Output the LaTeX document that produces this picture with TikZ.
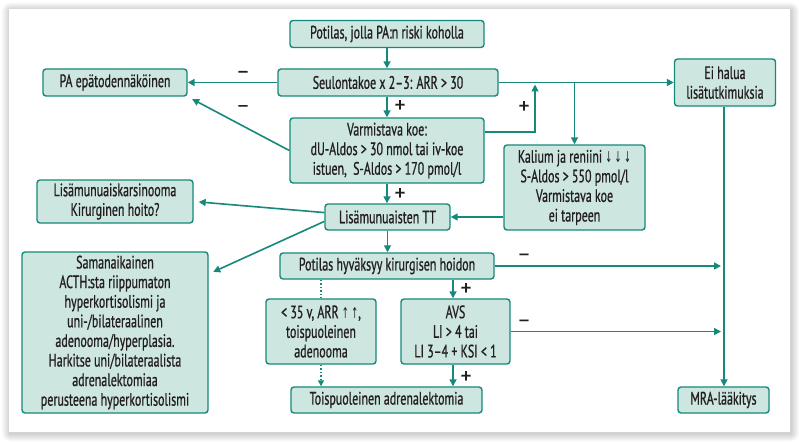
\documentclass[tikz,border=0pt]{standalone}
\usepackage{fontspec}
\setmainfont{PT Sans}[FakeStretch=0.665,FakeBold=0.8]
\newfontfamily\arr{DejaVu Sans}[FakeStretch=0.55]
\newfontfamily\lblfont{PT Sans}[FakeBold=0.8]
\usetikzlibrary{arrows.meta,calc}
\definecolor{tealline}{HTML}{17897A}
\definecolor{tealfill}{HTML}{CDE6DF}
\definecolor{txt}{HTML}{231F20}
\tikzset{
  box/.style={draw=tealline, fill=tealfill, line width=1.4pt, rounded corners=3pt,
    inner sep=0pt, align=center, text=txt, font=\fontsize{18}{19.6}\selectfont},
  conn/.style={draw=tealline, line width=1.6pt, -{Triangle[length=7pt,width=7pt]}},
  plain/.style={draw=tealline, line width=1.6pt},
  dots/.style={draw=tealline, line width=1.3pt, dash pattern=on 1.5pt off 2pt},
  lbl/.style={text=txt, font=\lblfont\fontsize{21}{21}\selectfont, inner sep=0pt}
}
\begin{document}
\begin{tikzpicture}[x=1pt,y=-1pt]
\useasboundingbox (0,0) rectangle (799,441);
\fill[white] (0,0) rectangle (799,441);
% shadow
\foreach \i in {1,...,9}{
  \fill[black,opacity=0.018,rounded corners=\i pt] ($(9,9)-(\i*0.9,\i*0.9)+(1,1.5)$) rectangle ($(790,432)+(\i*0.9,\i*0.9)+(1,1.5)$);
}
\fill[white] (9,9) rectangle (790,432);

% nodes
\node[box, minimum width=194pt, minimum height=27pt] (pot) at (387,34) {Potilas, jolla PA:n riski koholla};
\node[box, minimum width=144pt, minimum height=27pt] (pa) at (115,82.5) {PA epätodennäköinen};
\node[box, minimum width=220pt, minimum height=27pt] (seu) at (388,82.5) {Seulontakoe x 2–3: ARR > 30};
\node[box, minimum width=101pt, minimum height=47pt] (ei) at (725,82.5) {Ei halua\\lisätutkimuksia};
\node[box, minimum width=194pt, minimum height=65pt] (var) at (387,150.5) {Varmistava koe:\\dU-Aldos > 30 nmol tai iv-koe\\istuen,\ \ S-Aldos > 170 pmol/l};
\node[box, minimum width=141pt, minimum height=85pt] (kal) at (574.5,187.5) {Kalium ja reniini {\arr\fontsize{15}{15}\selectfont ↓\,↓\,↓}\\S-Aldos > 550 pmol/l\\Varmistava koe\\ei tarpeen};
\node[box, minimum width=156pt, minimum height=43pt] (kar) at (115,201.5) {Lisämunuaiskarsinooma\\Kirurginen hoito?};
\node[box, minimum width=125pt, minimum height=26pt] (tt) at (387.5,217) {Lisämunuaisten TT};
\node[box, minimum width=186pt, minimum height=161pt] (sam) at (115,332.5) {Samanaikainen\\ACTH:sta riippumaton\\hyperkortisolismi ja\\uni-/bilateraalinen\\adenooma/hyperplasia.\\Harkitse uni/bilateraalista\\adrenalektomiaa\\perusteena hyperkortisolismi};
\node[box, minimum width=214pt, minimum height=26pt] (hyv) at (387,266) {Potilas hyväksyy kirurgisen hoidon};
\node[box, minimum width=110pt, minimum height=65pt] (alle) at (321,331.5) {< 35 v, ARR {\arr\fontsize{15}{15}\selectfont ↑\,↑},\\toispuoleinen\\adenooma};
\node[box, minimum width=109pt, minimum height=65pt] (avs) at (455.5,331.5) {AVS\\LI > 4 tai\\LI 3–4 + KSI < 1};
\node[box, minimum width=191pt, minimum height=26pt] (tois) at (386.5,400) {Toispuoleinen adrenalektomia};
\node[box, minimum width=91pt, minimum height=26pt] (mra) at (723.5,400) {MRA-lääkitys};

% helper coordinates
\coordinate (upx) at (535,132);
\coordinate (upend) at (535,84.5);
\coordinate (vx) at (724,0);
\coordinate (ax) at (453,0);

% connectors
\draw[conn] (pot) -- (pot |- seu.north);
\draw[conn] (seu.west) -- (pa.east);
\draw[conn, shorten >=5pt] (var.west) -- (pa.south east);
\draw[conn] (seu.south -| var.north) -- (var.north);
\draw[conn] (var.east |- upx) -- (upx) -- (upend);
\draw[conn] (seu.east) -- (ei.west |- seu.east);
\draw[conn] (kal.north |- seu.east) -- (kal.north);
\draw[conn] (var.south) -- (var.south |- tt.north);
\draw[conn] (kal.west |- tt.east) -- (tt.east);
\draw[conn, shorten >=5pt] (tt.176) -- (kar.east);
\draw[conn, shorten >=5pt] (tt.184) -- (sam.32.6);
\draw[conn] (tt.south) -- (tt.south |- hyv.north);
\draw[conn] (ei.south -| vx) -- (mra.north -| vx);
\draw[conn, shorten >=3pt] (hyv.east) -- (vx |- hyv.east);
\draw[conn] (ax |- hyv.south) -- (ax |- avs.north);
\draw[conn, shorten >=3pt] (avs.east) -- (vx |- avs.east);
\draw[conn] (ax |- avs.south) -- (ax |- tois.north);
\draw[dots] (alle.north |- hyv.south) -- (alle.north);
\draw[dots, -{Triangle[length=6pt,width=6pt]}] (alle.south) -- (alle.south |- tois.north);

% labels
\node[lbl] (m1) at (243,74.5) {–};
\node[lbl] (m2) at (243,108.5) {–};
\node[lbl] (p1) at (400,106) {+};
\node[lbl] (p2) at (524,107) {+};
\node[lbl] (p3) at (400,194) {+};
\node[lbl] (m3) at (524,257) {–};
\node[lbl] (p4) at (466,289) {+};
\node[lbl] (m4) at (524,323) {–};
\node[lbl] (p5) at (466,377) {+};
\end{tikzpicture}
\end{document}
